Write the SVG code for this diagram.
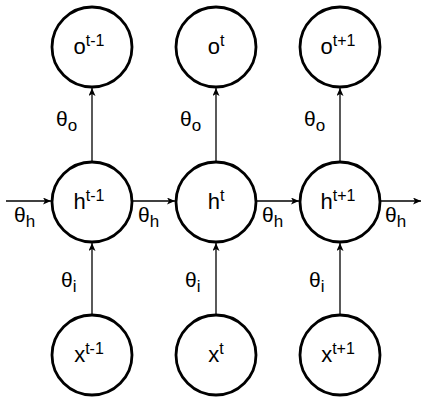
<svg xmlns="http://www.w3.org/2000/svg" width="424" height="400" viewBox="0 0 424 400">
<style>
.node circle{fill:#fff;stroke:#000;stroke-width:2.8}
.lbl{font-family:"Liberation Sans",Arial,sans-serif;font-size:22px;fill:#000;text-anchor:middle}
.sup{font-size:16px}
.th{font-family:"Liberation Sans",Arial,sans-serif;font-size:21px;fill:#000}
.sub{font-size:17px}
.edge{stroke:#000;stroke-width:1.3;fill:none;marker-end:url(#arr)}
</style>
<defs>
<marker id="arr" markerUnits="userSpaceOnUse" markerWidth="10" markerHeight="10" refX="8" refY="3.5" orient="auto">
<path d="M0,0 L8,3.5 L0,7 L2,3.5 z" fill="#000"/>
</marker>
</defs>
<rect width="424" height="400" fill="#fff"/>
<g id="connectors">
<line class="edge" x1="92" y1="162" x2="92" y2="88"/>
<line class="edge" x1="216" y1="162" x2="216" y2="88"/>
<line class="edge" x1="340" y1="162" x2="340" y2="88"/>
<line class="edge" x1="92" y1="315" x2="92" y2="243"/>
<line class="edge" x1="216" y1="315" x2="216" y2="243"/>
<line class="edge" x1="340" y1="315" x2="340" y2="243"/>
<line class="edge" x1="6" y1="201" x2="51" y2="201"/>
<line class="edge" x1="132" y1="201" x2="175" y2="201"/>
<line class="edge" x1="256" y1="201" x2="299" y2="201"/>
<line class="edge" x1="380" y1="201" x2="421" y2="201"/>
<text class="th" x="56" y="126">θ<tspan class="sub" dy="5">o</tspan></text>
<text class="th" x="180" y="126">θ<tspan class="sub" dy="5">o</tspan></text>
<text class="th" x="304" y="126">θ<tspan class="sub" dy="5">o</tspan></text>
<text class="th" x="14" y="222">θ<tspan class="sub" dy="5">h</tspan></text>
<text class="th" x="138" y="222">θ<tspan class="sub" dy="5">h</tspan></text>
<text class="th" x="262" y="222">θ<tspan class="sub" dy="5">h</tspan></text>
<text class="th" x="385" y="222">θ<tspan class="sub" dy="5">h</tspan></text>
<text class="th" x="61" y="287">θ<tspan class="sub" dy="5">i</tspan></text>
<text class="th" x="185" y="287">θ<tspan class="sub" dy="5">i</tspan></text>
<text class="th" x="309" y="287">θ<tspan class="sub" dy="5">i</tspan></text>
</g>
<g id="o_tm1" class="node"><circle cx="92" cy="47" r="40"/><text class="lbl" x="89" y="54">o<tspan class="sup" dy="-8">t-1</tspan></text></g>
<g id="o_t" class="node"><circle cx="216" cy="47" r="40"/><text class="lbl" x="216" y="54">o<tspan class="sup" dy="-8">t</tspan></text></g>
<g id="o_tp1" class="node"><circle cx="340" cy="47" r="40"/><text class="lbl" x="338" y="54">o<tspan class="sup" dy="-8">t+1</tspan></text></g>
<g id="h_tm1" class="node"><circle cx="92" cy="202" r="40"/><text class="lbl" x="89" y="209">h<tspan class="sup" dy="-8">t-1</tspan></text></g>
<g id="h_t" class="node"><circle cx="216" cy="202" r="40"/><text class="lbl" x="216" y="209">h<tspan class="sup" dy="-8">t</tspan></text></g>
<g id="h_tp1" class="node"><circle cx="340" cy="202" r="40"/><text class="lbl" x="338" y="209">h<tspan class="sup" dy="-8">t+1</tspan></text></g>
<g id="x_tm1" class="node"><circle cx="92" cy="355" r="40"/><text class="lbl" x="89" y="362">x<tspan class="sup" dy="-8">t-1</tspan></text></g>
<g id="x_t" class="node"><circle cx="216" cy="355" r="40"/><text class="lbl" x="216" y="362">x<tspan class="sup" dy="-8">t</tspan></text></g>
<g id="x_tp1" class="node"><circle cx="340" cy="355" r="40"/><text class="lbl" x="338" y="362">x<tspan class="sup" dy="-8">t+1</tspan></text></g>
</svg>
